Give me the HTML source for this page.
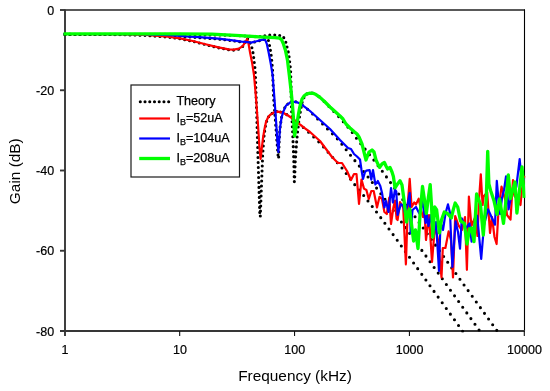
<!DOCTYPE html>
<html><head><meta charset="utf-8"><title>Gain vs Frequency</title>
<style>
html,body{margin:0;padding:0;background:#fff;}
svg{display:block;font-family:"Liberation Sans",sans-serif;}
</style></head><body>
<svg width="550" height="391" viewBox="0 0 550 391">
<rect width="550" height="391" fill="#fff"/>
<defs><clipPath id="c"><rect x="62.5" y="9" width="463" height="323.6"/></clipPath></defs>
<g fill="none">
<line x1="65" y1="10" x2="525" y2="10" stroke="#222" stroke-width="1.4"/>
<line x1="524.5" y1="9.4" x2="524.5" y2="331" stroke="#000" stroke-width="1.1"/>
</g>
<g stroke="#363636" stroke-width="1.9" fill="none">
<line x1="65" y1="9.5" x2="65" y2="336"/>
<line x1="60" y1="331" x2="525" y2="331"/>
<line x1="60" y1="10.00" x2="65" y2="10.00" /><line x1="60" y1="90.25" x2="65" y2="90.25" /><line x1="60" y1="170.50" x2="65" y2="170.50" /><line x1="60" y1="250.75" x2="65" y2="250.75" /><line x1="60" y1="331.00" x2="65" y2="331.00" />
</g>
<g stroke="#111" stroke-width="1.1" fill="none"><line x1="179.68" y1="331" x2="179.68" y2="335.9" /><line x1="294.55" y1="331" x2="294.55" y2="335.9" /><line x1="409.43" y1="331" x2="409.43" y2="335.9" /><line x1="524.30" y1="331" x2="524.30" y2="335.9" /></g>
<g clip-path="url(#c)" fill="none" stroke-linejoin="round">
<g stroke="#000" stroke-width="3.1" stroke-linecap="round" stroke-dasharray="0 5">
<path d="M65.0 34.4 L120.0 34.6 L146.0 35.4 L168.0 37.1 L180.0 38.8 L192.8 41.4 L205.6 44.6 L218.4 47.8 L228.6 49.7 L233.8 50.1 L238.9 49.1 L242.7 46.5 L245.3 42.4 L247.4 38.3 L250.0 43.0 L252.2 48.5 L253.2 53.8 L253.9 59.3 L254.5 64.7 L255.2 69.8 L255.9 90.0 L256.6 110.0 L257.9 154.5 L259.9 216.5 L260.3 216.5 L261.5 185.0 L262.7 154.5 L263.8 138.0 L265.2 127.0 L267.4 118.5 L270.0 114.8 L274.0 112.2 L278.0 111.4"/>
<path d="M65.0 34.4 L140.0 34.6 L170.0 35.6 L190.0 37.0 L199.0 37.6 L218.4 39.0 L231.0 40.5 L241.5 42.0 L246.0 42.2 L250.9 42.9 L256.6 41.5 L261.8 40.2 L266.0 38.8 L268.4 40.4 L269.7 46.1 L270.7 51.9 L271.5 57.6 L272.0 63.4 L272.5 68.5 L273.6 98.0 L275.4 120.0 L276.8 140.0 L278.3 158.4 L278.6 158.4 L279.2 140.0 L280.0 128.0 L281.4 118.0 L282.9 112.0 L285.8 105.4 L290.0 102.6 L295.0 101.6"/>
<path d="M65.0 34.4 L180.0 34.4 L230.0 35.2 L255.0 36.6 L262.0 36.6 L267.0 35.2 L278.0 35.0 L283.1 36.3 L285.7 41.6 L287.1 47.4 L288.4 52.5 L289.3 58.3 L289.9 64.0 L290.6 69.8 L291.0 85.0 L291.2 100.0 L291.8 115.0 L292.8 136.0 L293.8 160.0 L294.3 181.6 L294.6 181.6 L295.3 160.0 L296.8 140.0 L297.8 130.0 L299.0 120.0 L300.6 110.0 L302.2 102.0 L304.3 96.5 L306.8 94.0 L310.0 93.0 L313.0 93.2"/>
</g>
<g stroke="#000" stroke-width="3.1" stroke-linecap="round" stroke-dasharray="0 7">
<path d="M278.0 111.4 L283.0 112.6 L288.0 115.3 L294.0 119.5 L300.0 124.6 L310.0 133.4 L322.0 145.0 L327.0 151.0 L335.0 160.0 L342.0 168.0 L346.0 173.3 L355.0 185.0 L359.0 190.0 L364.0 195.8 L380.0 216.6 L400.0 244.1 L425.8 279.9 L462.5 331.0 L469.0 340.0" stroke-dashoffset="-2.5"/>
<path d="M295.0 101.6 L298.0 102.4 L302.0 104.7 L306.0 107.8 L310.0 111.5 L320.0 121.2 L327.0 128.4 L332.0 133.4 L337.0 138.5 L342.0 144.3 L346.0 149.5 L351.0 155.8 L356.0 162.0 L360.0 167.0 L370.0 179.5 L380.0 192.6 L390.0 206.0 L400.0 220.0 L442.3 278.8 L479.8 331.0 L486.3 340.0" stroke-dashoffset="-0.9"/>
<path d="M313.0 93.2 L316.0 94.4 L320.0 97.4 L325.0 102.2 L330.0 107.5 L340.0 118.0 L350.0 129.5 L357.0 139.0 L362.0 145.3 L367.0 151.5 L371.0 156.6 L375.0 161.5 L384.0 173.5 L392.0 184.6 L460.2 279.6 L497.3 331.1 L503.7 340.0"/>
</g>
<path d="M63.5 34.0 L120.0 34.2 L146.0 35.0 L168.0 36.7 L180.0 38.4 L192.8 41.0 L205.6 44.2 L218.4 47.4 L228.6 49.3 L233.8 49.7 L238.9 48.7 L242.7 46.1 L245.3 42.2 L247.2 39.2 L248.5 43.5 L250.2 53.2 L252.2 63.4 L254.0 75.0 L256.0 98.0 L258.0 125.0 L259.5 148.0 L260.6 159.0 L261.8 148.0 L263.0 138.0 L264.5 129.0 L266.0 122.0 L268.0 117.5 L270.0 115.0 L274.0 112.4 L278.0 111.6 L283.0 112.8 L288.0 115.5 L294.0 119.5 L300.0 124.5 L305.0 128.3 L310.0 132.0 L315.0 136.5 L320.0 141.0 L326.0 149.0 L332.0 157.0 L338.0 163.0 L342.0 163.0 L347.0 171.0 L351.0 180.0 L354.0 174.0 L356.5 174.0 L359.0 204.0 L361.5 179.6 L364.0 188.6 L366.4 190.0 L368.8 199.0 L371.3 191.0 L373.7 191.0 L377.0 207.5 L379.5 196.8 L382.0 199.0 L384.4 212.0 L386.8 214.0 L389.3 197.6 L391.0 224.0 L393.4 207.5 L395.0 200.6 L396.6 219.0 L397.6 220.0 L400.0 202.0 L403.2 207.5 L405.9 264.4 L408.0 201.0 L409.7 178.8 L411.6 207.0 L414.2 202.5 L416.0 204.4 L418.7 198.7 L420.6 208.0 L423.0 217.0 L424.5 212.0 L426.0 240.0 L429.0 215.0 L432.0 262.0 L435.0 225.0 L438.0 240.0 L441.5 277.5 L442.8 248.0 L445.4 248.0 L448.6 231.4 L451.0 240.0 L453.0 277.5 L455.2 216.0 L458.7 225.8 L462.0 230.0 L465.0 217.0 L466.9 269.8 L468.9 196.5 L471.4 226.0 L475.3 217.0 L477.5 236.0 L479.0 200.0 L480.8 174.4 L482.6 205.0 L483.6 196.5 L487.2 192.3 L490.0 233.0 L492.0 217.0 L494.5 237.0 L496.6 244.0 L498.5 210.0 L501.5 186.6 L505.4 200.4 L507.0 215.0 L510.5 219.6 L513.0 180.0 L514.5 196.0 L518.2 200.4 L520.5 205.0 L522.0 189.0 L524.6 175.7" stroke="#ff0000" stroke-width="2.2"/>
<path d="M63.5 34.0 L140.0 34.2 L170.0 35.2 L190.0 36.6 L199.0 37.2 L218.4 38.6 L231.0 40.1 L241.5 41.6 L246.0 41.8 L250.9 42.6 L256.6 41.2 L261.8 39.9 L265.0 39.3 L266.9 44.2 L268.8 53.2 L270.7 63.4 L272.6 75.0 L274.4 98.0 L276.0 120.0 L277.3 140.0 L278.4 152.0 L279.3 138.0 L280.0 128.0 L281.5 118.0 L283.0 112.4 L286.0 105.6 L290.0 102.7 L295.0 101.8 L298.0 102.6 L302.0 104.8 L306.0 107.8 L310.0 111.0 L315.0 115.5 L320.0 120.0 L325.0 124.5 L330.0 129.0 L335.0 134.5 L340.0 140.0 L344.0 144.0 L348.0 148.0 L351.0 149.0 L354.0 154.0 L357.0 156.5 L360.0 159.5 L361.5 170.0 L363.0 179.0 L365.0 172.0 L366.4 170.6 L369.6 170.0 L371.3 179.6 L373.0 170.0 L375.4 184.5 L377.8 181.0 L380.3 186.0 L382.0 192.7 L384.4 207.5 L386.0 201.0 L388.5 212.0 L391.0 188.0 L392.9 202.5 L395.0 189.5 L396.3 191.6 L397.6 215.0 L400.8 204.4 L403.0 205.0 L405.0 213.0 L407.5 205.0 L409.7 193.0 L410.6 233.0 L412.5 210.0 L416.0 207.0 L419.3 213.4 L422.5 202.0 L425.7 223.0 L427.0 215.0 L428.5 226.0 L431.0 215.0 L433.0 235.0 L436.0 222.0 L439.0 271.0 L440.5 222.0 L443.0 230.0 L445.6 213.0 L448.0 204.4 L450.0 213.0 L452.4 267.0 L455.6 221.4 L458.0 232.0 L460.0 248.7 L461.8 218.3 L465.7 228.5 L469.5 223.4 L471.6 241.6 L474.5 225.0 L477.2 215.7 L481.2 259.0 L484.0 225.0 L488.0 209.3 L495.0 224.7 L496.8 180.8 L498.5 200.0 L500.0 214.0 L502.0 198.0 L504.0 190.0 L506.0 176.4 L508.6 209.3 L511.8 192.7 L514.3 186.0 L516.3 187.0 L519.7 159.0 L522.0 185.0 L524.0 178.0" stroke="#0000ff" stroke-width="2.2"/>
<path d="M63.5 33.8 L100.0 33.8 L140.0 33.8 L180.0 33.8 L212.0 34.2 L240.0 35.6 L259.0 36.8 L275.0 37.6 L279.5 38.2 L281.5 39.6 L283.5 44.2 L285.5 50.6 L287.4 59.6 L289.3 75.0 L291.0 90.0 L292.4 104.0 L293.6 120.0 L294.6 136.0 L295.9 128.0 L297.3 121.5 L298.5 114.0 L299.6 108.0 L300.8 103.0 L302.0 99.2 L304.0 96.0 L306.5 94.0 L310.0 93.1 L313.0 93.3 L316.0 94.6 L320.0 97.4 L325.0 102.0 L330.0 107.0 L335.0 111.5 L340.0 116.0 L343.0 119.0 L346.0 124.0 L350.0 128.0 L354.0 131.5 L357.0 134.0 L359.0 137.0 L362.0 144.0 L364.0 152.0 L366.0 160.0 L367.5 156.0 L369.0 152.0 L372.0 150.0 L374.0 152.0 L376.0 160.0 L379.5 167.4 L382.0 164.0 L384.4 162.5 L386.0 166.0 L387.6 169.0 L390.0 167.4 L392.0 172.0 L393.4 176.4 L395.0 187.8 L397.5 184.0 L400.0 180.8 L402.0 185.0 L404.0 200.0 L406.5 222.0 L408.3 212.0 L409.7 209.0 L411.6 225.0 L413.6 241.0 L415.5 230.0 L418.0 248.5 L420.0 215.0 L422.5 186.5 L424.5 200.0 L426.4 213.4 L428.3 198.0 L430.2 184.6 L431.5 205.0 L432.8 237.0 L434.7 207.0 L436.6 209.6 L439.4 233.0 L441.5 220.0 L444.3 212.0 L447.5 213.4 L451.3 218.0 L453.2 210.0 L455.2 203.0 L457.7 207.0 L460.5 221.0 L464.4 223.4 L467.0 244.0 L469.5 229.0 L471.5 228.0 L474.0 241.6 L476.6 194.0 L480.4 204.0 L483.3 235.0 L486.3 198.0 L487.7 151.4 L488.9 184.0 L490.6 190.5 L493.9 200.4 L497.0 214.4 L499.6 199.0 L503.5 223.4 L505.5 205.0 L508.3 175.0 L510.5 198.5 L513.0 189.0 L515.0 182.0 L516.9 213.0 L519.0 195.0 L522.0 166.8 L524.3 197.8" stroke="#00ff00" stroke-width="3.3"/>
</g>
<rect x="131" y="85" width="108.5" height="92" fill="#fff" stroke="#1a1a1a" stroke-width="1.2"/>
<g fill="none">
<line x1="140.3" y1="101.7" x2="169.5" y2="101.7" stroke="#000" stroke-width="3.1" stroke-linecap="round" stroke-dasharray="0 4.73"/>
<line x1="139.2" y1="118.5" x2="170" y2="118.5" stroke="#ff0000" stroke-width="2.2"/>
<line x1="139.2" y1="138.5" x2="170" y2="138.5" stroke="#0000ff" stroke-width="2.2"/>
<line x1="139.2" y1="158.5" x2="170" y2="158.5" stroke="#00ff00" stroke-width="3.3"/>
</g>
<g font-size="12.6px" fill="#000" stroke="#000" stroke-width="0.25">
<text x="176.4" y="105.4">Theory</text>
<text x="176.4" y="121.75">I<tspan font-size="9px" dy="3.45">B</tspan><tspan dy="-3.45">=52uA</tspan></text>
<text x="176.4" y="141.7">I<tspan font-size="9px" dy="3.45">B</tspan><tspan dy="-3.45">=104uA</tspan></text>
<text x="176.4" y="161.5">I<tspan font-size="9px" dy="3.45">B</tspan><tspan dy="-3.45">=208uA</tspan></text>
</g>
<g font-size="12.5px" fill="#000" stroke="#000" stroke-width="0.2">
<text x="65.0" y="353.8" text-anchor="middle">1</text><text x="179.9" y="353.8" text-anchor="middle">10</text><text x="294.8" y="353.8" text-anchor="middle">100</text><text x="409.6" y="353.8" text-anchor="middle">1000</text><text x="524.5" y="353.8" text-anchor="middle">10000</text>
<text x="54.2" y="14.6" text-anchor="end">0</text><text x="54.2" y="94.8" text-anchor="end">-20</text><text x="54.2" y="175.1" text-anchor="end">-40</text><text x="54.2" y="255.3" text-anchor="end">-60</text><text x="54.2" y="335.6" text-anchor="end">-80</text>
</g>
<text x="295" y="381.3" font-size="15.4px" text-anchor="middle" fill="#000">Frequency (kHz)</text>
<text transform="translate(20.2,171.2) rotate(-90)" font-size="15.4px" text-anchor="middle" fill="#000">Gain (dB)</text>
</svg>
</body></html>
